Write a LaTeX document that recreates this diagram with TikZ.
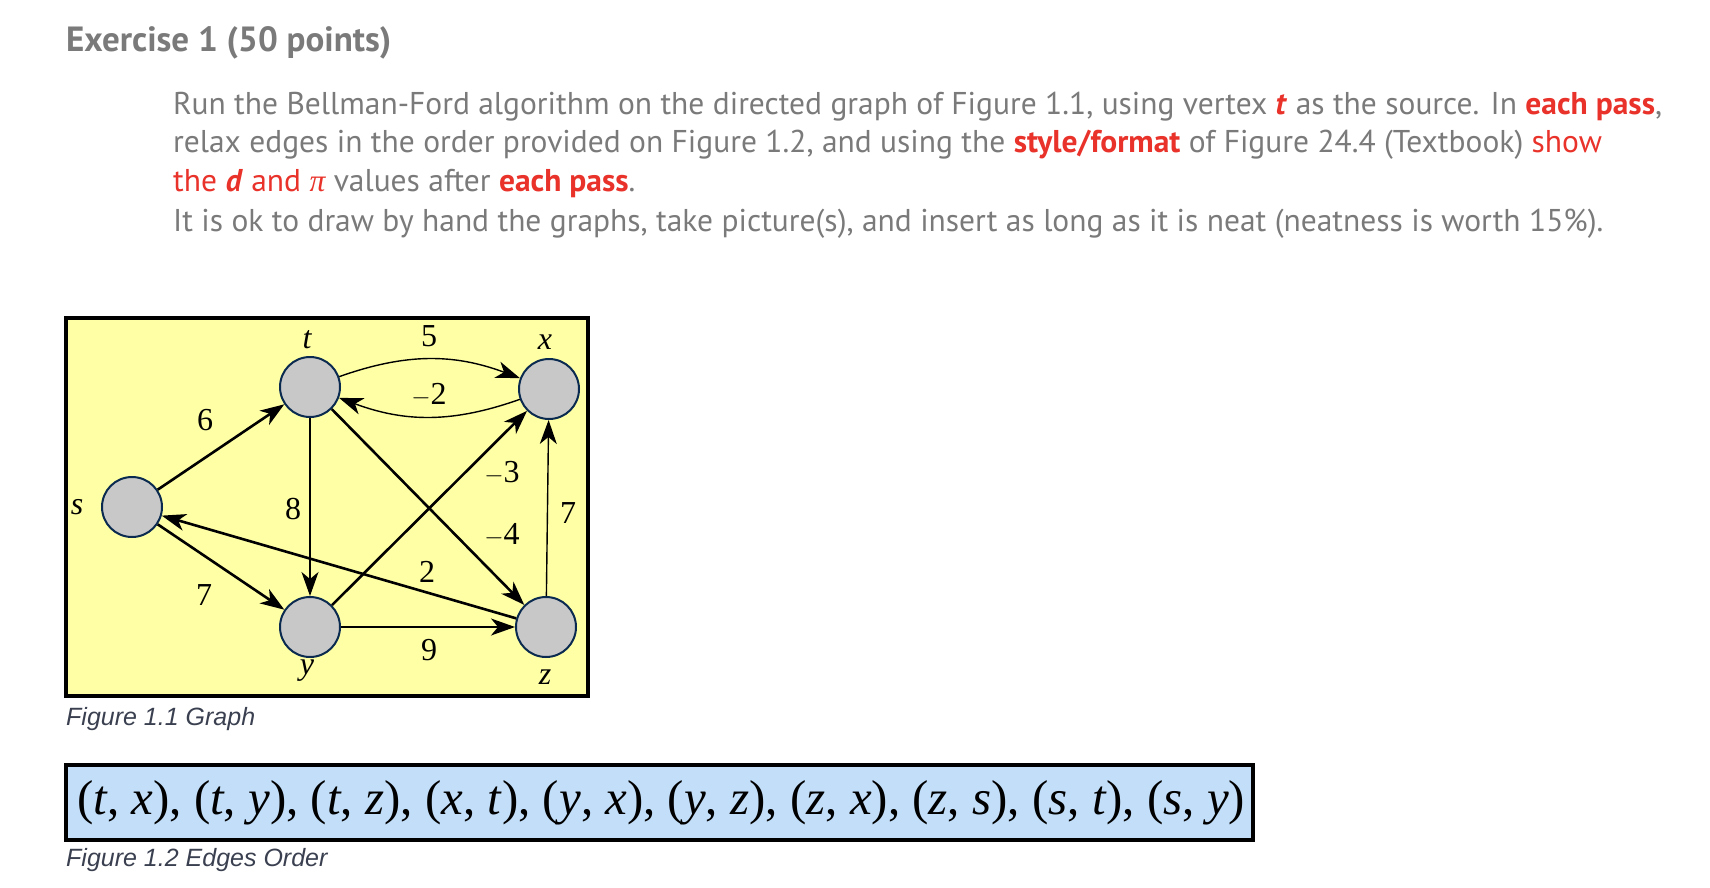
\documentclass[tikz,border=0pt]{standalone}
\usepackage{fontspec}
\setmainfont{PT Sans}
\newfontfamily\tms{Liberation Serif}
\newfontfamily\arl{Liberation Sans}
\usetikzlibrary{arrows.meta}
\definecolor{txtgray}{HTML}{7A7A7A}
\definecolor{hired}{HTML}{E8322A}
\definecolor{figyellow}{HTML}{FFFFA6}
\definecolor{figblue}{HTML}{C3DEF8}
\definecolor{nodegray}{HTML}{C8C8C8}
\definecolor{nodeedge}{HTML}{0A2A50}
\definecolor{capcol}{HTML}{3A4050}
\begin{document}
\begin{tikzpicture}[x=1pt,y=-1pt,
  vtx/.style={circle,fill=nodegray,draw=nodeedge,line width=2pt,minimum size=60pt,inner sep=0pt},
  lbl/.style={font=\tms\itshape\fontsize{32}{32}\selectfont},
  wt/.style={font=\tms\fontsize{32}{32}\selectfont},
  thk/.style={line width=2.6pt,-{Stealth[length=24pt,width=17pt,inset=7pt]}},
  thn/.style={line width=1.4pt,-{Stealth[length=24pt,width=17pt,inset=7pt]}},
  para/.style={anchor=base west,inner sep=0pt,text=txtgray,font=\fontsize{31.5}{31.5}\selectfont},
  figcap/.style={anchor=base west,inner sep=0pt,text=capcol,font=\arl\itshape\fontsize{25}{25}\selectfont}]
\useasboundingbox (0,0) rectangle (1710,888);
\node[anchor=base west,inner sep=0pt,text=txtgray,font=\bfseries\fontsize{35}{35}\selectfont] (title) at (66,52) {Exercise 1 (50 points)};
\node[para] (l1) at (173,115) {Run the Bellman-Ford algorithm on the directed graph of Figure 1.1, using vertex \textcolor{hired}{\textbf{\textit{t}}} as the source. In \textcolor{hired}{\textbf{each pass}},};
\node[para] (l2) at (173,153) {relax edges in the order provided on Figure 1.2, and using the \textcolor{hired}{\textbf{style/format}} of Figure 24.4 (Textbook) \textcolor{hired}{show}};
\node[para] (l3) at (173,191) {\textcolor{hired}{the \textbf{\textit{d}} and {\tms\itshape π}} values after \textcolor{hired}{\textbf{each pass}}.};
\node[para] (l4) at (173,231) {It is ok to draw by hand the graphs, take picture(s), and insert as long as it is neat (neatness is worth 15\%).};

\draw[line width=4.5pt,fill=figyellow] (66,318) rectangle (588,696);
\node[vtx] (t) at (310,387) {};
\node[vtx] (x) at (549,389) {};
\node[vtx] (s) at (132,507) {};
\node[vtx] (y) at (310,627) {};
\node[vtx] (z) at (546,627) {};
\node[lbl] at (307,340) {t};
\node[lbl] at (545,342) {x};
\node[lbl] at (77,507) {s};
\node[lbl] at (307,671) {y};
\node[lbl] at (545,677) {z};
\draw[thn] (t) to[bend left=20] (x);
\draw[thn] (x) to[bend left=20] (t);
\draw[thk] (s) -- (t);
\draw[thk] (s) -- (y);
\draw[thn] (t) -- (y);
\draw[thk] (t) -- (z);
\draw[thk] (y) -- (x);
\draw[thn] (y) -- (z);
\draw[thn] (z) -- (x);
\draw[thk] (z) -- (s);
\node[wt] at (429,336) {5};
\node[wt] at (429,395) {$-$2};
\node[wt] at (205,420) {6};
\node[wt] at (293,509) {8};
\node[wt] at (204,595) {7};
\node[wt] at (502,473) {$-$3};
\node[wt] at (502,535) {$-$4};
\node[wt] at (568,513) {7};
\node[wt] at (427,572) {2};
\node[wt] at (429,650) {9};
\node[figcap] (c1) at (66,725) {Figure 1.1 Graph};

\draw[line width=4.5pt,fill=figblue] (66,765) rectangle (1253,840);
\node[anchor=west,inner sep=0pt,font=\tms\fontsize{44}{44}\selectfont] (edges) at (77,803)
 {\resizebox{1168pt}{!}{(\textit{t}, \textit{x}), (\textit{t}, \textit{y}), (\textit{t}, \textit{z}), (\textit{x}, \textit{t}), (\textit{y}, \textit{x}), (\textit{y}, \textit{z}), (\textit{z}, \textit{x}), (\textit{z}, \textit{s}), (\textit{s}, \textit{t}), (\textit{s}, \textit{y})}};
\node[figcap] (c2) at (66,866) {Figure 1.2 Edges Order};
\end{tikzpicture}
\end{document}
